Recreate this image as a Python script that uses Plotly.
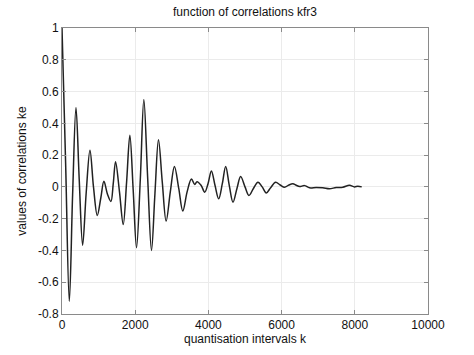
import plotly.graph_objects as go

# quantisation intervals k and correlation values ke
k = [0, 100, 200, 290, 382, 470, 564, 660, 764, 860, 964, 1060, 1145, 1245,
     1336, 1400, 1463, 1570, 1673, 1765, 1854, 1945, 2036, 2140, 2236, 2340,
     2445, 2540, 2636, 2740, 2845, 2960, 3072, 3190, 3300, 3420, 3536, 3627,
     3690, 3800, 3900, 3990, 4082, 4180, 4281, 4380, 4472, 4570, 4672, 4780,
     4881, 5000, 5108, 5230, 5354, 5470, 5581, 5700, 5836, 5960, 6081, 6200,
     6308, 6400, 6491, 6627, 6763, 6945, 7127, 7309, 7490, 7672, 7854, 7990,
     8081, 8190]
ke = [1.0, 0.14, -0.72, -0.05, 0.50, 0.05, -0.367, -0.04, 0.231, 0.0, -0.18,
      -0.07, 0.035, -0.048, -0.092, 0.02, 0.158, -0.03, -0.237, 0.03, 0.325,
      -0.02, -0.383, 0.05, 0.55, 0.06, -0.40, -0.04, 0.296, 0.03, -0.215,
      -0.03, 0.129, -0.01, -0.152, -0.03, 0.05, 0.015, 0.033, 0.01, -0.033,
      0.02, 0.10, 0.01, -0.075, 0.02, 0.129, 0.01, -0.096, -0.01, 0.065,
      0.0, -0.054, -0.01, 0.029, 0.0, -0.038, -0.005, 0.029, 0.012, -0.002,
      0.012, 0.019, 0.01, 0.002, 0.008, -0.006, -0.004, -0.006, -0.012,
      -0.004, -0.002, 0.01, 0.0, 0.004, 0.0]

x_ticks = [0, 2000, 4000, 6000, 8000, 10000]
x_tick_text = ["0", "2000", "4000", "6000", "8000", "10000"]
y_ticks = [1, 0.8, 0.6, 0.4, 0.2, 0, -0.2, -0.4, -0.6, -0.8]
y_tick_text = ["1", "0.8", "0.6", "0.4", "0.2", "0", "-0.2", "-0.4", "-0.6", "-0.8"]

fig = go.Figure()
fig.add_trace(go.Scatter(
    x=k, y=ke, mode="lines",
    line=dict(color="#222222", width=1.5, shape="spline", smoothing=1.0),
    showlegend=False, hoverinfo="skip",
))

font = "Liberation Sans, Arial, sans-serif"
axis_common = dict(
    showline=True, linecolor="#8a8a8a", linewidth=1, mirror="ticks",
    ticks="inside", ticklen=4, tickcolor="#8a8a8a",
    showgrid=True, gridcolor="#ebebeb", gridwidth=1,
    zeroline=False, tickfont=dict(family=font, size=12, color="#111111"),
)

fig.update_layout(
    width=474, height=355,
    margin=dict(l=62, r=46, t=28, b=39),
    paper_bgcolor="white", plot_bgcolor="white",
    title=dict(text="function of correlations kfr3", x=0.5, xref="paper",
               y=1 - 12 / 355, yref="container", yanchor="middle",
               font=dict(family=font, size=12, color="#111111")),
    xaxis=dict(range=[0, 10000], tickvals=x_ticks, ticktext=x_tick_text,
               title=dict(text="quantisation intervals k", standoff=2,
                          font=dict(family=font, size=12, color="#111111")),
               **axis_common),
    yaxis=dict(range=[-0.8, 1], tickvals=y_ticks, ticktext=y_tick_text,
               title=dict(text="values of correlations ke", standoff=8,
                          font=dict(family=font, size=12, color="#111111")),
               **axis_common),
)

fig.write_html("out.html",
               config={"displayModeBar": False},
               post_script="document.body.style.margin='0';")
